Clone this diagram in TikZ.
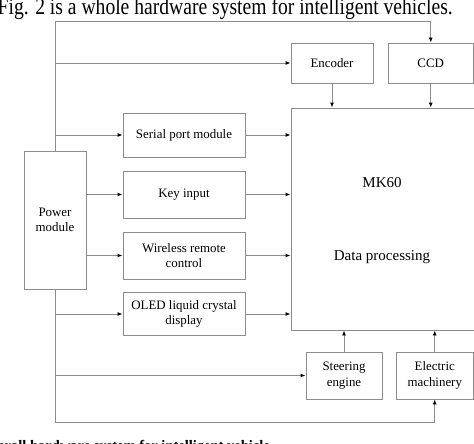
\documentclass[tikz,border=0pt]{standalone}
\usepackage{fontspec}
\setmainfont{Liberation Serif}
\usetikzlibrary{arrows.meta}
\definecolor{lin}{HTML}{8C8C8C}
\tikzset{
  box/.style={draw=lin, line width=0.9pt, fill=white, align=center, inner sep=0pt,
    font=\fontsize{12.9}{15.5}\selectfont},
  arr/.style={draw=lin, line width=0.9pt, -{Latex[length=5pt,width=4pt,color=black]}},
  ln/.style={draw=lin, line width=0.9pt}
}
\begin{document}
\begin{tikzpicture}[x=1pt,y=-1pt]
\useasboundingbox (0,0) rectangle (474,444);
% top text and caption
\node[anchor=base west, inner sep=0pt, font=\fontsize{19.6}{22}\selectfont] (title) at (-2.5,14.3) {\scalebox{1}[1.2]{Fig. 2 is a whole hardware system for intelligent vehicles.}};
\node[anchor=base east, inner sep=0pt, font=\fontsize{14.5}{16}\selectfont\bfseries] (cap) at (270,450) {Overall hardware system for intelligent vehicle};
% boxes
\node[box, minimum width=82pt, minimum height=40pt] (enc) at (332,63) {Encoder};
\node[box, minimum width=85.5pt, minimum height=40pt] (ccd) at (430.75,63) {CCD};
\node[box, minimum width=190pt, minimum height=222pt] (mk) at (386,219) {};
\node[inner sep=0pt, font=\fontsize{15}{18}\selectfont] (mkt) at (382,183) {MK60};
\node[inner sep=0pt, font=\fontsize{15}{18}\selectfont] (dp) at (382,257) {Data processing};
\node[box, minimum width=62pt, minimum height=138pt] (pm) at (55,220) {Power\\module};
\node[box, minimum width=122pt, minimum height=44pt] (ser) at (184,135) {Serial port module};
\node[box, minimum width=122pt, minimum height=47pt] (key) at (184,194.5) {Key input};
\node[box, minimum width=122pt, minimum height=47pt] (wl) at (184,255.5) {Wireless remote\\control};
\node[box, minimum width=122pt, minimum height=43pt] (oled) at (184,314) {OLED liquid crystal\\display};
\node[box, minimum width=76pt, minimum height=47pt] (st) at (344,375.5) {Steering\\engine};
\node[box, minimum width=77.5pt, minimum height=47pt] (em) at (434.75,375.5) {Electric\\machinery};
% coordinates
\coordinate (tl) at (55,21);
\coordinate (bl) at (55,422);
% connectors
\draw[arr] (pm.north) -- (tl) -| (ccd.north);
\draw[arr] (pm.north |- enc.west) -- (enc.west);
\draw[arr] (pm.north |- ser.west) -- (ser.west);
\draw[arr] (pm.east |- key.west) -- (key.west);
\draw[arr] (pm.east |- wl.west) -- (wl.west);
\draw[arr] (pm.south) -- (bl) -| (em.south);
\draw[arr] (pm.south |- oled.west) -- (oled.west);
\draw[arr] (pm.south |- st.west) -- (st.west);
\draw[arr] (ser.east) -- (ser.east -| mk.west);
\draw[arr] (key.east) -- (key.east -| mk.west);
\draw[arr] (wl.east) -- (wl.east -| mk.west);
\draw[arr] (oled.east) -- (oled.east -| mk.west);
\draw[arr] (enc.south) -- (enc.south |- mk.north);
\draw[arr] (ccd.south) -- (ccd.south |- mk.north);
\draw[arr] (st.north) -- (st.north |- mk.south);
\draw[arr] (em.north) -- (em.north |- mk.south);
\end{tikzpicture}
\end{document}
